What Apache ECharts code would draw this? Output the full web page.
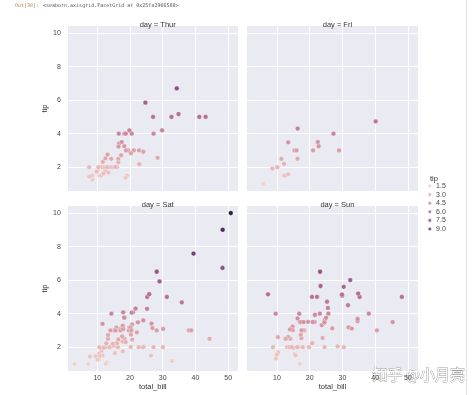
<!DOCTYPE html>
<html><head><meta charset="utf-8">
<script src="https://cdn.jsdelivr.net/npm/echarts@6/dist/echarts.min.js"></script>
<style>html,body{margin:0;padding:0;background:#fff}#c{width:474px;height:395px}</style>
</head><body><div id="c"></div>
<script>
const days = ['Thur', 'Fri', 'Sat', 'Sun'];
const thurBill = [27.2,22.76,17.29,19.44,16.66,10.07,32.68,15.98,34.83,13.03,18.28,24.71,21.16,10.65,12.43,24.08,11.69,13.42,14.26,15.95,12.48,29.8,8.52,14.52,11.38,22.82,19.08,20.27,11.17,12.26,18.26,8.51,10.33,14.15,16,13.16,17.47,34.3,41.19,27.05,16.43,8.35,18.64,11.87,9.78,7.51,19.81,28.44,15.48,16.58,7.56,10.34,43.11,13,13.51,18.71,12.74,13,16.4,20.53,16.47,18.78];
const thurTip = [4,3,2.71,3,3.4,1.83,5,2.03,5.17,2,4,5.85,3,1.5,1.8,2.92,2.31,1.68,2.5,2,2.52,4.2,1.48,2,2,2.18,1.5,2.83,1.5,2,3.25,1.25,2,2,2,2.75,3.5,6.7,5,5,2.3,1.5,1.36,1.63,1.73,2,4.19,2.56,2.02,4,1.44,2,5,2,2,4,2.01,2,2.5,4,3.23,3];
const friBill = [28.97,22.49,5.75,16.32,22.75,40.17,27.28,12.03,21.01,12.46,11.35,15.38,12.16,13.42,8.58,15.98,13.42,16.27,10.09];
const friTip = [3,3.5,1,4.3,3.25,4.73,4,1.5,3,1.5,2.5,3,2.2,3.48,1.92,3,1.58,2.5,2];
const satBill = [20.65,17.92,20.29,15.77,39.42,19.82,17.81,13.37,12.69,21.7,19.65,9.55,18.35,15.06,20.69,17.78,24.06,16.31,16.93,18.69,31.27,16.04,38.01,26.41,11.24,48.27,20.29,13.81,11.02,18.29,17.59,20.08,16.45,3.07,20.23,15.01,12.02,17.07,26.86,25.28,14.73,10.51,17.92,44.3,22.42,20.92,15.36,20.49,25.21,18.24,14.31,14,7.25,10.59,10.63,50.81,15.81,26.59,38.73,24.27,12.76,30.06,25.89,48.33,13.27,28.17,12.9,28.15,11.59,7.74,30.14,20.45,13.28,22.12,24.01,15.69,11.61,10.77,15.53,10.07,12.6,32.83,35.83,29.03,27.18,22.67,17.82];
const satTip = [3.35,4.08,2.75,2.23,7.58,3.18,2.34,2,2,4.3,3,1.45,2.5,3,2.45,3.27,3.6,2,3.07,2.31,5,2.24,3,1.5,1.76,6.73,3.21,2,1.98,3.76,2.64,3.15,2.47,1,2.01,2.09,1.97,3,3.14,5,2.2,1.25,3.08,2.5,3.48,4.08,1.64,4.06,4.29,3.76,4,3,1,1.61,2,10,3.16,3.41,3,2.03,2.23,2,5.16,9,2.5,6.5,1.1,3,1.5,1.44,3.09,3,2.72,2.88,2,3,3.39,1.47,3,1.25,1,1.17,4.67,5.92,2,2,1.75];
const sunBill = [16.99,10.34,21.01,23.68,24.59,25.29,8.77,26.88,15.04,14.78,10.27,35.26,15.42,18.43,14.83,21.58,10.33,16.29,16.97,17.46,13.94,9.68,30.4,18.29,22.23,32.4,28.55,18.04,12.54,10.29,34.81,9.94,25.56,19.49,38.07,23.95,25.71,17.31,29.93,14.07,13.13,17.26,24.55,19.77,29.85,48.17,25,13.39,16.49,21.5,12.66,16.21,13.81,17.51,24.52,20.76,31.71,7.25,31.85,16.82,32.9,17.89,14.48,9.6,34.63,34.65,23.33,45.35,23.17,40.55,20.69,20.9,30.46,18.15,23.1,15.69];
const sunTip = [1.01,1.66,3.5,3.31,3.61,4.71,2,3.12,1.96,3.23,1.71,5,1.57,3,3.02,3.92,1.67,3.71,3.5,2.54,3.06,1.32,5.6,3,5,6,2.05,3,2.5,2.6,5.2,1.56,4.34,3.51,4,2.55,4,3.5,5.07,2.5,2,2.74,2,2,5.14,5,3.75,2.61,2,3.5,2.5,2,2,3,3.48,2.24,4.5,5.15,3.18,4,3.11,2,2,4,3.55,3.68,5.65,3.5,6.5,3,5,3.5,2,3.5,4,1.5];
const legendTicks = ['1.5','3.0','4.5','6.0','7.5','9.0'];

const bills = [thurBill, friBill, satBill, sunBill];
const tips = [thurTip, friTip, satTip, sunTip];
const allTips = [].concat(thurTip, friTip, satTip, sunTip);
const tipMin = Math.min.apply(null, allTips), tipMax = Math.max.apply(null, allTips);
const allBills = [].concat(thurBill, friBill, satBill, sunBill);
const billMin = Math.min.apply(null, allBills), billMax = Math.max.apply(null, allBills);
const xPad = (billMax - billMin) * 0.05, yPad = (tipMax - tipMin) * 0.05;

// seaborn default cubehelix colormap
function cube(v) {
  const t = Math.max(0, Math.min(1, (v - tipMin) / (tipMax - tipMin)));
  const x = 0.85 + (0.15 - 0.85) * t;
  const a = 0.8 * x * (1 - x) / 2;
  const phi = 2 * Math.PI * (0.4 * x);
  const c = Math.cos(phi), s = Math.sin(phi);
  const r = x + a * (-0.14861 * c + 1.78277 * s);
  const g = x + a * (-0.29227 * c - 0.90649 * s);
  const b = x + a * (1.97294 * c);
  const f = u => Math.round(Math.max(0, Math.min(1, u)) * 255);
  return 'rgb(' + f(r) + ',' + f(g) + ',' + f(b) + ')';
}

const L = [66.8, 246.5], T = [25.5, 205.5], W = 171.8, H = 166;
const font = 'Liberation Sans, Arial, sans-serif';
const grids = [], xAxes = [], yAxes = [], titles = [], series = [];
for (let i = 0; i < 4; i++) {
  const col = i % 2, row = Math.floor(i / 2);
  grids.push({left: L[col], top: T[row], width: W, height: H, show: true, backgroundColor: '#eaeaf2', borderWidth: 0, containLabel: false});
  xAxes.push({type: 'value', gridIndex: i, min: billMin - xPad, max: billMax + xPad, splitNumber: 5,
    name: row === 1 ? 'total_bill' : '', nameLocation: 'middle', nameGap: 11.5,
    nameTextStyle: {fontSize: 7.5, color: '#333', fontFamily: font},
    axisLine: {show: false}, axisTick: {show: false},
    axisLabel: {show: row === 1, fontSize: 7, color: '#444', fontFamily: font, margin: 3.5, showMinLabel: false, showMaxLabel: false,
      formatter: v => (Math.abs(v - Math.round(v)) < 1e-6 && Math.round(v) % 10 === 0) ? String(Math.round(v)) : ''},
    splitLine: {lineStyle: {color: '#ffffff', width: 1}}});
  yAxes.push({type: 'value', gridIndex: i, min: tipMin - yPad, max: tipMax + yPad, splitNumber: 5,
    name: col === 0 ? 'tip' : '', nameLocation: 'middle', nameGap: 13, nameRotate: 90,
    nameTextStyle: {fontSize: 7.5, color: '#333', fontFamily: font},
    axisLine: {show: false}, axisTick: {show: false},
    axisLabel: {show: col === 0, fontSize: 7, color: '#444', fontFamily: font, margin: 6, showMinLabel: false, showMaxLabel: false,
      formatter: v => (Math.abs(v - Math.round(v)) < 1e-6 && Math.round(v) % 2 === 0) ? String(Math.round(v)) : ''},
    splitLine: {lineStyle: {color: '#ffffff', width: 1}}});
  titles.push({text: 'day = ' + days[i], left: L[col] + W / 2, top: T[row] - 10, textAlign: 'center',
    textStyle: {fontSize: 7.5, fontWeight: 'normal', color: '#333', fontFamily: font}});
  series.push({type: 'scatter', name: days[i], xAxisIndex: i, yAxisIndex: i, symbolSize: 4.8,
    data: bills[i].map((b, k) => [b, tips[i][k]]),
    itemStyle: {color: p => cube(p.value[1]), borderColor: '#ffffff', borderWidth: 0.35, opacity: 1},
    emphasis: {disabled: true}, animation: false});
}
legendTicks.forEach(lbl => {
  series.push({type: 'scatter', name: lbl, xAxisIndex: 0, yAxisIndex: 0, data: [],
    itemStyle: {color: cube(parseFloat(lbl)), borderColor: '#fff', borderWidth: 0.4}});
});
titles.push({text: 'tip', left: 425, top: 170, textStyle: {fontSize: 7.5, fontWeight: 'normal', color: '#333', fontFamily: font}});

const chart = echarts.init(document.getElementById('c'), null, {renderer: 'canvas'});
chart.setOption({
  backgroundColor: '#ffffff',
  animation: false,
  title: titles,
  grid: grids, xAxis: xAxes, yAxis: yAxes, series: series,
  legend: {data: legendTicks, orient: 'vertical', left: 426.5, top: 182, icon: 'circle', itemWidth: 4.6, itemHeight: 4.6,
    itemGap: 0.6, selectedMode: false, textStyle: {fontSize: 7, lineHeight: 8, color: '#444', fontFamily: font, padding: [0,0,0,-1]}, padding: 0},
  graphic: [
    {type: 'text', left: 15, top: 3, style: {text: 'Out[30]:', fontSize: 5, fill: '#b5834f', fontFamily: 'DejaVu Sans Mono, monospace'}},
    {type: 'text', left: 43, top: 3, style: {text: '<seaborn.axisgrid.FacetGrid at 0x25fa2966588>', fontSize: 5, fill: '#555', fontFamily: 'DejaVu Sans Mono, monospace'}},
    {type: 'line', shape: {x1: 466.5, y1: 0, x2: 466.5, y2: 395}, style: {stroke: '#e2e2e2', lineWidth: 1}},
    {type: 'text', left: 372, top: 366, style: {text: '知乎 @小月亮', fontSize: 15, fill: '#ffffff', stroke: '#9d9d9d', lineWidth: 0.9, fontFamily: 'Noto Sans CJK SC, sans-serif'}}
  ]
});
</script></body></html>
